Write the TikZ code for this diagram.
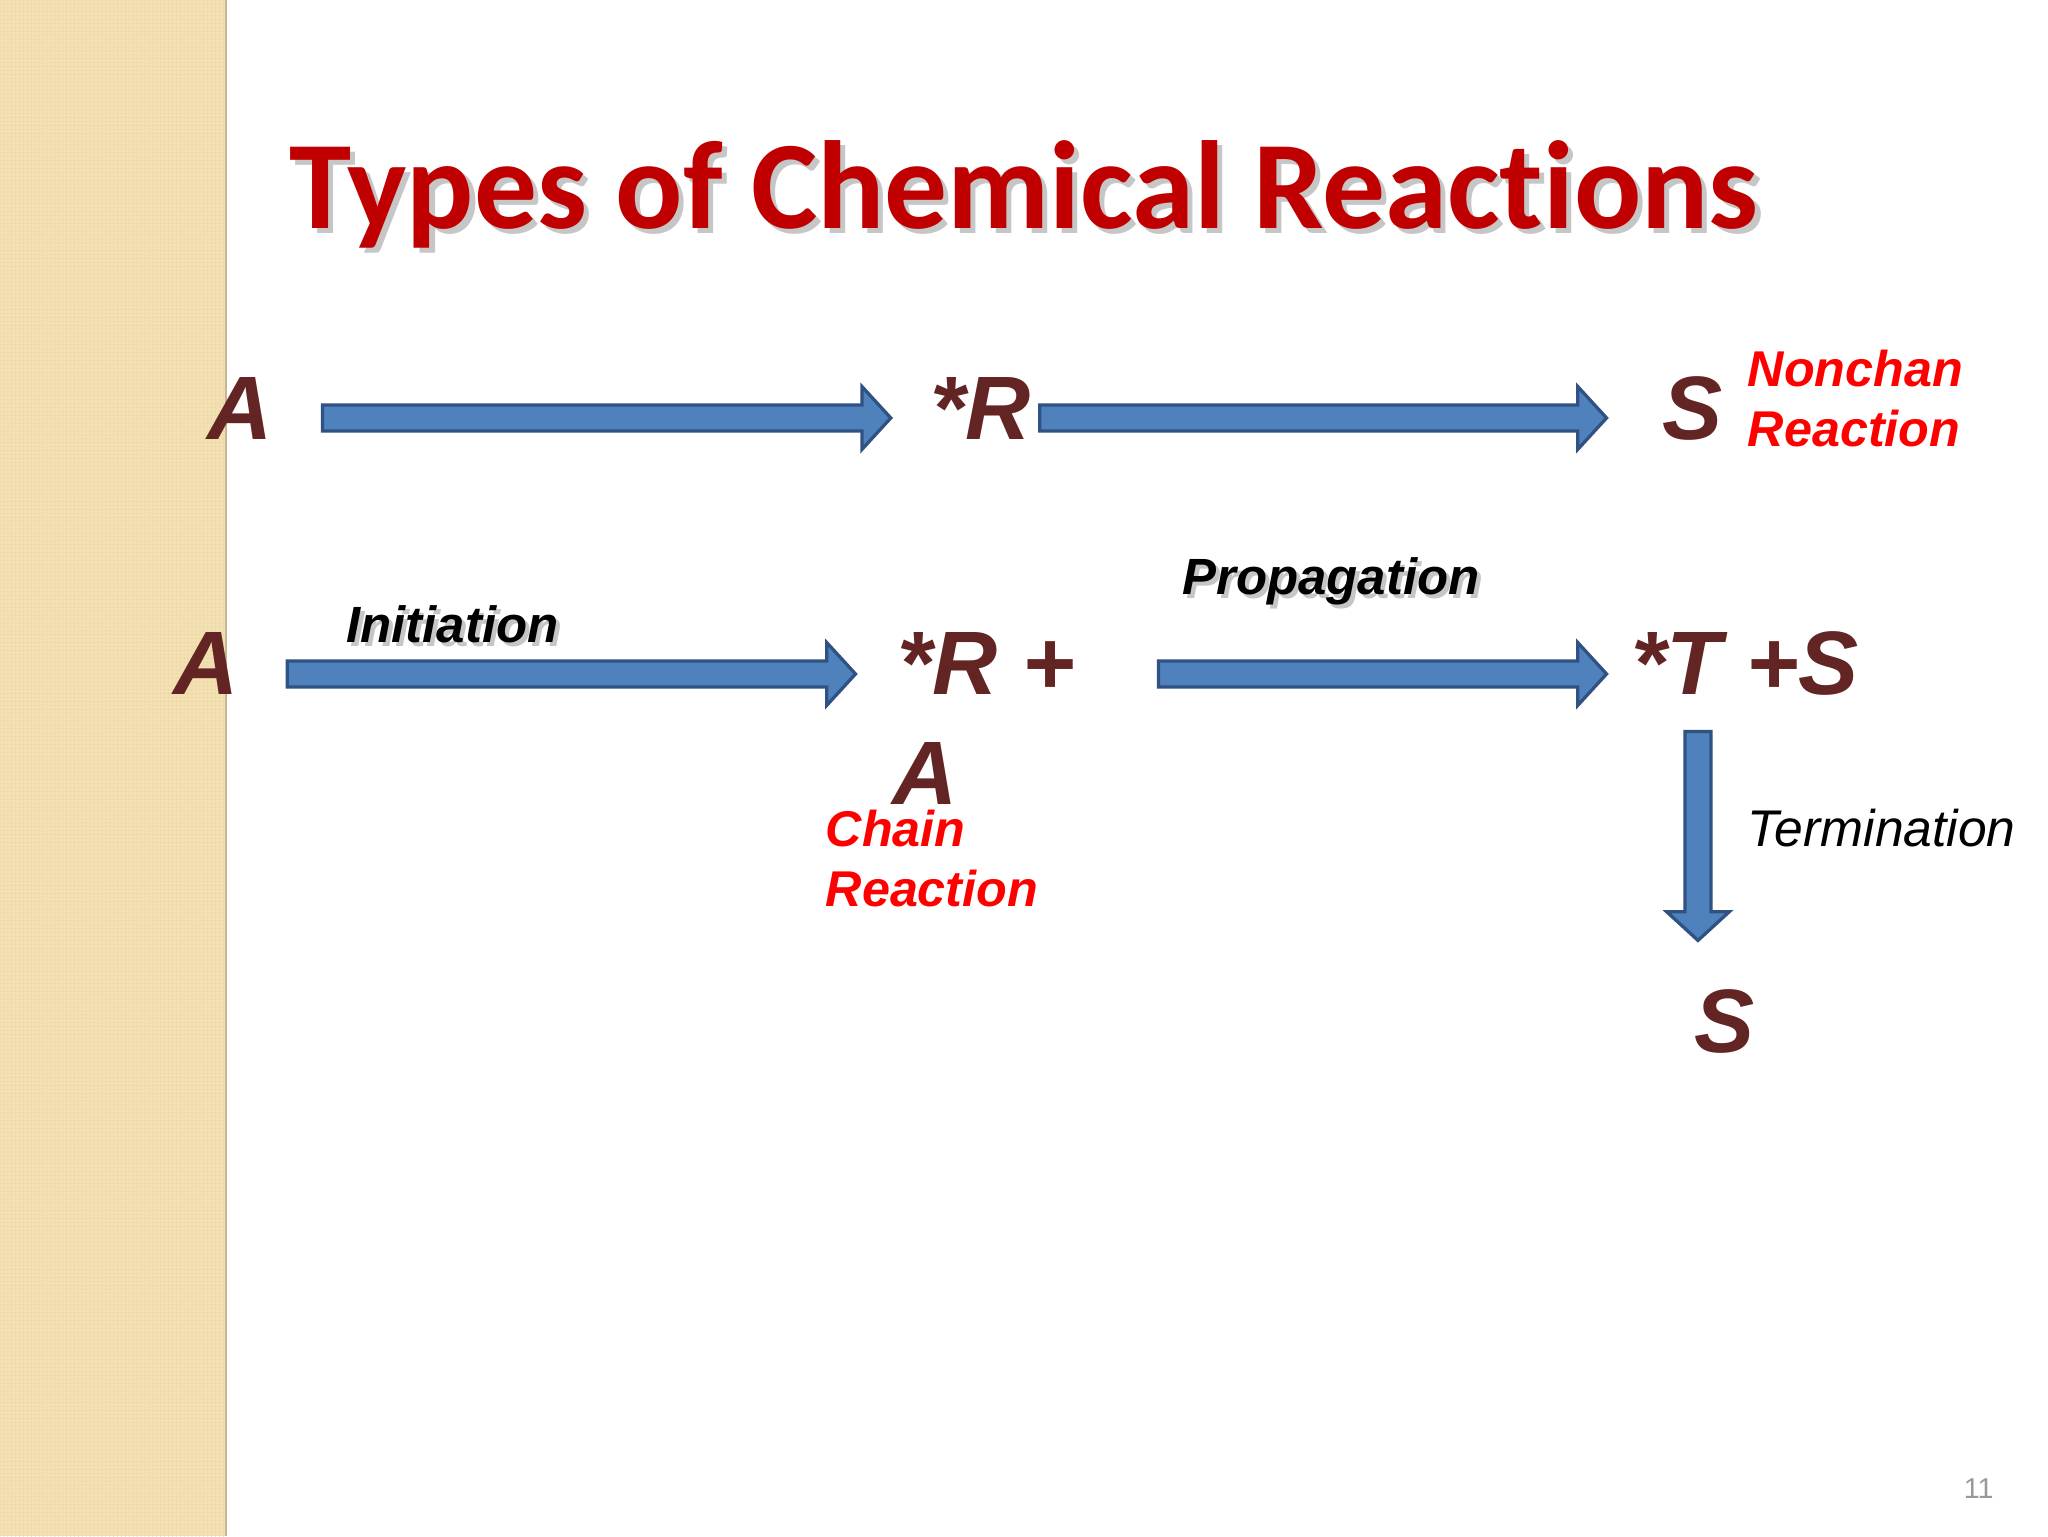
\documentclass[tikz,border=0pt]{standalone}
\usepackage{fontspec}
\setmainfont{Liberation Sans}
\newfontfamily\titlefont[Ligatures={NoCommon}]{Carlito}
\usetikzlibrary{patterns}
\definecolor{tan}{HTML}{F3E0B2}
\definecolor{tandot}{HTML}{E6CE98}
\definecolor{ttl}{HTML}{C00000}
\definecolor{chem}{HTML}{632523}
\definecolor{afill}{HTML}{4F81BD}
\definecolor{aline}{HTML}{2F5282}
\definecolor{lblred}{HTML}{FF0000}
\tikzset{
 chemtxt/.style={font=\fontsize{69}{69}\selectfont\bfseries\itshape, text=chem, inner sep=0pt},
 redtxt/.style={font=\fontsize{38.5}{46}\selectfont\bfseries\itshape, text=lblred, inner sep=0pt, anchor=west, align=left},
 blktxt/.style={font=\fontsize{39}{44}\selectfont\bfseries\itshape, text=black, inner sep=0pt, anchor=west},
 barrow/.style={fill=afill, draw=aline, line width=2.5pt, line join=miter}
}
\newcommand{\harrow}[3]{% x1 x2 y
 \draw[barrow] (#1,#3-10) -- (#2-22,#3-10) -- (#2-22,#3-24) -- (#2,#3) -- (#2-22,#3+24) -- (#2-22,#3+10) -- (#1,#3+10) -- cycle;}
\begin{document}
\begin{tikzpicture}[x=1pt,y=-1pt]
\useasboundingbox (0,0) rectangle (1568,1176);
\fill[white] (0,0) rectangle (1568,1176);
\fill[tan] (0,0) rectangle (173,1176);
\fill[pattern=dots, pattern color=tandot] (0,0) rectangle (173,1176);
\draw[tandot!70!gray, line width=1.5pt] (173,0) -- (173,1176);
% title
\node[font=\titlefont\fontsize{96}{96}\selectfont\bfseries, text=gray!45, inner sep=0pt] at (788,153) {Types of Chemical Reactions};
\node[font=\titlefont\fontsize{96}{96}\selectfont\bfseries, text=ttl, inner sep=0pt] (title) at (784,149) {Types of Chemical Reactions};
% row 1
\node[chemtxt] (a1) at (184,313) {A};
\node[chemtxt] (r1) at (751,313) {*R};
\node[chemtxt] (s1) at (1296,313) {S};
\node[redtxt] (nc) at (1338,305) {Nonchan\\Reaction};
\harrow{247}{682}{320}
\harrow{796}{1230}{320}
% row 2
\node[chemtxt] (a2) at (158,508) {A};
\node[blktxt, text=gray!45] at (268,481) {Initiation};
\node[blktxt] (init) at (265,478) {Initiation};
\harrow{220}{655}{516}
\node[chemtxt] (r2) at (755,508) {*R +};
\node[chemtxt] (a3) at (708,592) {A};
\node[redtxt] (cr) at (632,657) {Chain\\Reaction};
\node[blktxt, text=gray!45] at (908,448) {Propagation};
\node[blktxt] (prop) at (905,445) {Propagation};
\harrow{887}{1230}{516}
\node[chemtxt] (ts) at (1336,508) {*T +S};
\draw[barrow] (1290,560) -- (1310,560) -- (1310,698) -- (1324,698) -- (1300,720) -- (1276,698) -- (1290,698) -- cycle;
\node[font=\fontsize{39.5}{44}\selectfont\itshape, inner sep=0pt, anchor=west] (term) at (1338,634) {Termination};
\node[chemtxt] (s2) at (1320,782) {S};
\node[font=\fontsize{22}{22}\selectfont, text=gray!80, inner sep=0pt] (num) at (1515,1140) {11};
\end{tikzpicture}
\end{document}
